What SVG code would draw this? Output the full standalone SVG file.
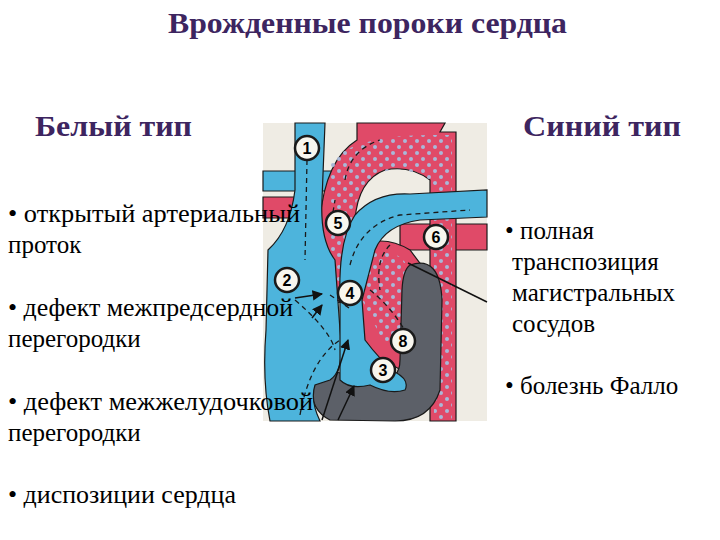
<svg xmlns="http://www.w3.org/2000/svg" width="720" height="540" viewBox="0 0 720 540">
<defs>
<style>
.t{font-family:"Liberation Serif",serif;fill:#000;font-size:25px}
.h{font-family:"Liberation Serif",serif;fill:#3d2560;font-size:30px;font-weight:bold}
.b{fill:#4db4dc;stroke:#1a1a1a;stroke-width:1.2}
.r{fill:#e04a68;stroke:#1a1a1a;stroke-width:1.2}
.g{fill:#5c6068;stroke:#1a1a1a;stroke-width:1.2}
.d{fill:none;stroke:#1a1a1a;stroke-width:1.3;stroke-dasharray:5 4}
.c circle{fill:#f8f6ee;stroke:#1a1a1a;stroke-width:2.5}
.c text{font-family:"Liberation Sans",sans-serif;font-weight:bold;font-size:16px;text-anchor:middle}
.p{stroke:#111;stroke-width:1.5;fill:none}
</style>
<marker id="a" viewBox="0 0 10 10" refX="9" refY="5" markerWidth="7" markerHeight="7" orient="auto"><path d="M0,0 L10,5 L0,10 z" fill="#111"/></marker>
<pattern id="dots" width="12" height="12" patternUnits="userSpaceOnUse"><circle cx="3" cy="3" r="2" fill="#a9b8d8"/><circle cx="9" cy="9" r="2" fill="#a9b8d8"/></pattern>
</defs>
<rect width="720" height="540" fill="#fff"/>
<g id="heart">
<rect x="263" y="123" width="224" height="298" fill="#efece4"/>
<path class="r" d="M263,197 L305,197 L305,218 L263,218 z"/>
<path class="b" d="M263,171 L345,171 L345,191 L263,191 z"/>
<path class="r" d="M400,224 L487,224 L487,250 L400,250 z"/>
<path class="r" d="M357,123 L445,123 L440,132 L456,132 L456,421 L430,421 L430,180 Q410,165 385,170 Q358,180 355,220 L352,300 L325,305 L320,220 Q325,160 357,140 z"/>
<path class="r" d="M362,245 Q385,235 410,250 L425,270 L420,355 L410,375 L365,350 L350,300 z"/>
<path fill="url(#dots)" d="M330,160 Q360,135 430,135 L452,135 L452,420 L434,420 L434,185 Q405,160 375,175 Q355,190 350,230 L345,290 L330,290 z"/>
<path fill="url(#dots)" d="M368,255 Q390,245 405,262 L412,340 L385,345 L362,300 z"/>
<path class="g" d="M410,265 Q440,255 442,300 L440,390 Q430,421 395,421 L330,420 Q310,410 312,385 Q318,370 335,372 L380,380 Q400,380 400,360 L402,290 Q403,270 410,265 z"/>
<path class="b" d="M295,123 L325,123 L322,200 Q320,240 335,260 L340,330 Q345,370 330,380 L315,385 Q310,400 320,421 L270,421 Q262,380 266,330 L268,250 Q290,230 295,190 z"/>
<path class="b" d="M340,380 L340,300 Q338,240 355,215 Q375,192 410,194 L487,190 L487,217 L420,220 Q385,225 375,250 L362,300 L365,340 Q380,360 395,372 Q410,380 405,390 Q390,395 370,385 Q350,390 340,380 z"/>
<path class="d" d="M307,160 L305,260 M295,300 Q330,330 335,350 M300,415 Q310,360 340,340 M330,295 L352,310 M350,265 Q360,225 400,215 L470,210 M345,180 Q350,150 380,140 M390,245 Q375,260 380,290 M330,230 L335,200 M370,290 Q395,310 410,340"/>
<g class="c">
<circle cx="307" cy="148" r="12"/><text x="307" y="154">1</text>
<circle cx="287" cy="280" r="12"/><text x="287" y="286">2</text>
<circle cx="383" cy="370" r="12"/><text x="383" y="376">3</text>
<circle cx="350" cy="293" r="12"/><text x="350" y="299">4</text>
<circle cx="338" cy="223" r="12"/><text x="338" y="229">5</text>
<circle cx="436" cy="237" r="12"/><text x="436" y="243">6</text>
<circle cx="403" cy="341" r="12"/><text x="403" y="347">8</text>
</g>
</g>
<g id="pointers">
<line class="p" x1="295" y1="298" x2="322" y2="294" marker-end="url(#a)"/>
<line class="p" x1="312" y1="318" x2="322" y2="305" marker-end="url(#a)"/>
<line class="p" x1="322" y1="420" x2="348" y2="340" marker-end="url(#a)"/>
<line class="p" x1="338" y1="420" x2="354" y2="386" marker-end="url(#a)"/>
<line class="p" x1="487" y1="302" x2="408" y2="263"/>
</g>
<text class="h" x="168" y="33" textLength="399" lengthAdjust="spacingAndGlyphs" font-size="27">Врожденные пороки сердца</text>
<text class="h" x="35" y="136" textLength="157" lengthAdjust="spacingAndGlyphs">Белый тип</text>
<text class="h" x="523" y="136" textLength="158" lengthAdjust="spacingAndGlyphs">Синий тип</text>
<text class="t" x="8" y="222" textLength="292" lengthAdjust="spacingAndGlyphs">• открытый артериальный</text>
<text class="t" x="8" y="253">проток</text>
<text class="t" x="8" y="316" textLength="285" lengthAdjust="spacingAndGlyphs">• дефект межпредсердной</text>
<text class="t" x="8" y="347">перегородки</text>
<text class="t" x="8" y="410" textLength="305" lengthAdjust="spacingAndGlyphs">• дефект межжелудочковой</text>
<text class="t" x="8" y="441">перегородки</text>
<text class="t" x="8" y="503" textLength="228" lengthAdjust="spacingAndGlyphs">• диспозиции сердца</text>
<text class="t" x="505" y="239">• полная</text>
<text class="t" x="512" y="270">транспозиция</text>
<text class="t" x="512" y="301">магистральных</text>
<text class="t" x="512" y="332">сосудов</text>
<text class="t" x="505" y="394">• болезнь Фалло</text>
</svg>
